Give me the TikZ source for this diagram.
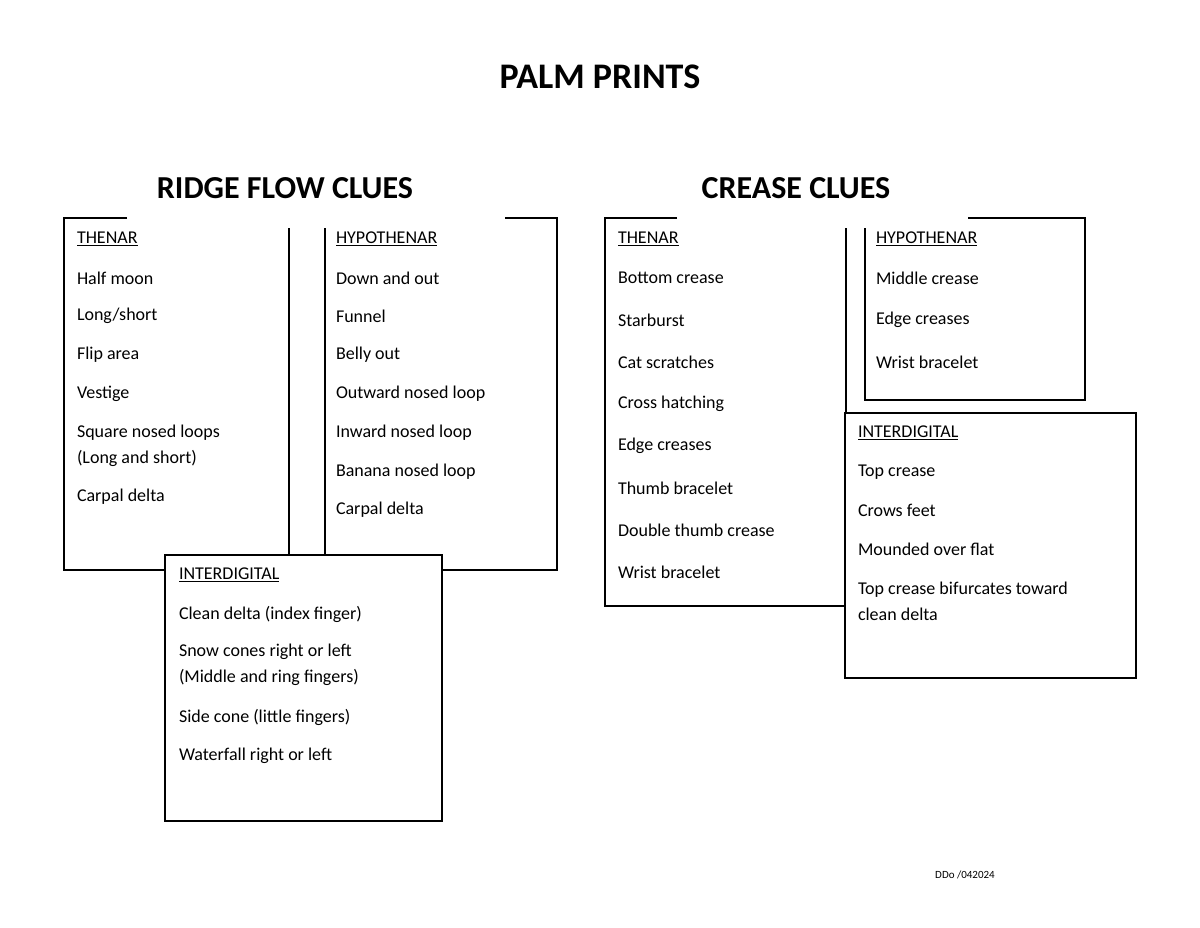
\documentclass[tikz,border=0pt]{standalone}
\usepackage{fontspec}
\setmainfont{Carlito}
\begin{document}
\begin{tikzpicture}[x=1pt,y=-1pt,line width=2pt,
  txt/.style={anchor=west,inner sep=0pt,font=\fontsize{18}{26}\selectfont,align=left},
  ttl/.style={inner sep=0pt,font=\fontsize{32}{36}\selectfont\bfseries}]
\useasboundingbox[fill=white] (0,0) rectangle (1200,927);
\node[ttl,font=\fontsize{36}{40}\selectfont\bfseries] (main) at (600,77) {PALM PRINTS};
\node[ttl] (rf) at (285,188) {RIDGE FLOW CLUES};
\node[ttl] (cc) at (796,188) {CREASE CLUES};
\node[anchor=center,inner sep=0pt,font=\fontsize{11}{13}\selectfont] (dd) at (965,875) {DDo /042024};
% left group
\draw (127,218) -- (64,218) -- (64,570) -- (165,570);
\draw (505,218) -- (557,218) -- (557,570) -- (442,570);
\draw (289,228) -- (289,555);
\draw (325,228) -- (325,555);
\draw (165,555) rectangle (442,821);
% right group
\draw (677,218) -- (605,218) -- (605,606) -- (846,606);
\draw (846,228) -- (846,606);
\draw (968,218) -- (1085,218) -- (1085,400) -- (865,400) -- (865,228);
\draw[fill=white] (845,413) rectangle (1136,678);
% texts
\foreach \t/\y [count=\i] in {\underline{THENAR}/239,Half moon/278,{Long/short}/316,Flip area/355,Vestige/394,Square nosed loops\\(Long and short)/446,Carpal delta/497}
  \node[txt] (lt\i) at (76,\y) {\t};
\foreach \t/\y [count=\i] in {\underline{HYPOTHENAR}/239,Down and out/278,Funnel/316,Belly out/355,Outward nosed loop/394,Inward nosed loop/433,Banana nosed loop/472,Carpal delta/510}
  \node[txt] (lh\i) at (335,\y) {\t};
\foreach \t/\y [count=\i] in {\underline{INTERDIGITAL}/575,Clean delta (index finger)/614,Snow cones right or left\\(Middle and ring fingers)/665,Side cone (little fingers)/717,Waterfall right or left/756}
  \node[txt] (li\i) at (178,\y) {\t};
\foreach \t/\y [count=\i] in {\underline{THENAR}/239,Bottom crease/278,Starburst/320,Cat scratches/362,Cross hatching/404,Edge creases/446,Thumb bracelet/488,Double thumb crease/530,Wrist bracelet/572}
  \node[txt] (rt\i) at (617,\y) {\t};
\foreach \t/\y [count=\i] in {\underline{HYPOTHENAR}/239,Middle crease/278,Edge creases/320,Wrist bracelet/362}
  \node[txt] (rh\i) at (875,\y) {\t};
\foreach \t/\y [count=\i] in {\underline{INTERDIGITAL}/433,Top crease/472,Crows feet/510,Mounded over flat/549,Top crease bifurcates toward\\clean delta/601}
  \node[txt] (ri\i) at (857,\y) {\t};
\end{tikzpicture}
\end{document}
